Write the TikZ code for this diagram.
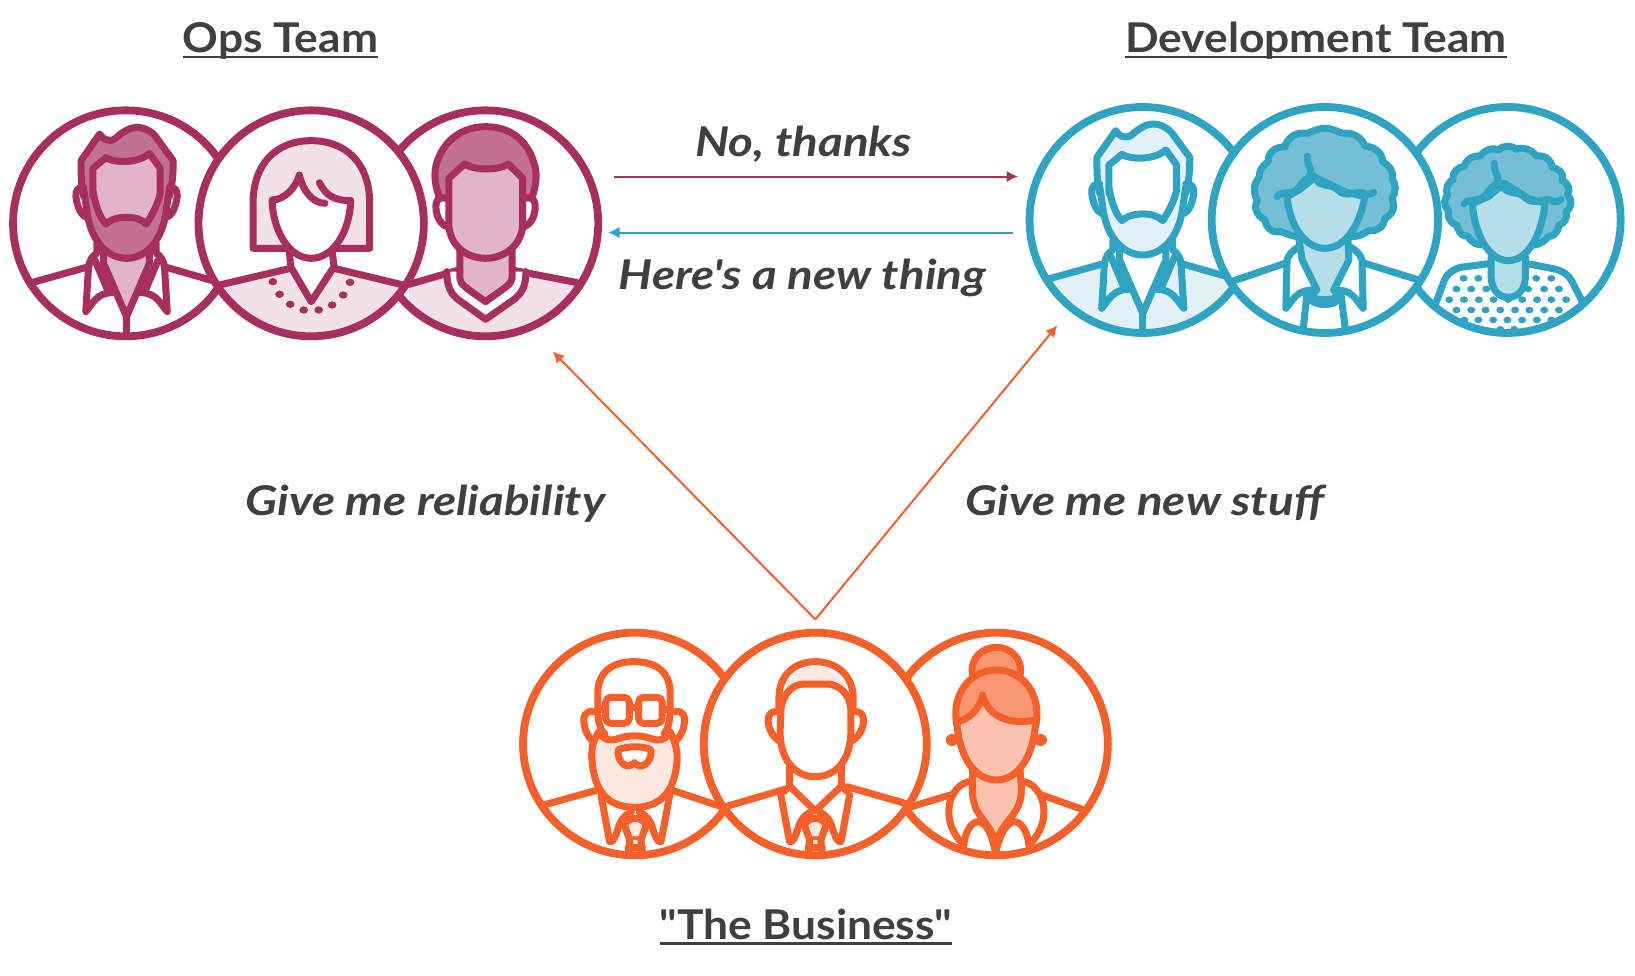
\documentclass[tikz,border=0pt]{standalone}
\usepackage{fontspec}
\newfontfamily\lbl{Lato}[FakeStretch=1.08]
\newfontfamily\lbli{Lato}[FakeStretch=1.16]
\usetikzlibrary{arrows.meta,calc}
\definecolor{txt}{HTML}{3F3F3F}
\definecolor{mar}{HTML}{A62F5E}\definecolor{marH}{HTML}{C2718F}\definecolor{marF}{HTML}{E2B5C6}\definecolor{marL}{HTML}{F3E1E8}
\definecolor{tea}{HTML}{2EA3C2}\definecolor{teaH}{HTML}{74BFD5}\definecolor{teaF}{HTML}{B5DEE8}\definecolor{teaL}{HTML}{E1F1F6}
\definecolor{ora}{HTML}{F45F2A}\definecolor{oraH}{HTML}{F79673}\definecolor{oraF}{HTML}{FBC2AF}\definecolor{oraL}{HTML}{FDE7E0}
\tikzset{
 ring/.style={draw=cM,line width=7.8pt},
 ln/.style={draw=cM,line width=7pt,line join=round,line cap=round},
 title/.style={font=\lbl\fontsize{41}{48}\selectfont\bfseries,text=txt,anchor=base,inner sep=0pt},
 says/.style={font=\lbli\fontsize{41}{48}\selectfont\bfseries\itshape,text=txt,anchor=base,inner sep=0pt},
 uline/.style={draw=txt,line width=2.2pt},
 arr/.style={line width=2pt,-{Latex[length=11.5pt,width=11.5pt]}},
}
% ears, given for the left side in a person's own coordinates
\newcommand{\earL}{\draw[ln] (222,382) .. controls (205,380) and (195,350) .. (192,320) .. controls (190,300) and (200,290) .. (212,292);}
\newcommand{\flapL}{%
 \draw[ln] (245,460) -- (245,490) .. controls (232,498) and (226,515) .. (224,530) -- (217,665) .. controls (235,640) and (245,608) .. (285,608);
 \draw[ln] (240,510) -- (272,600);}
% #1 hair #2 face #3 beard #4 neck #5 shirt
\newcommand{\bearded}[5]{%
 \fill[#5] (60,585) -- (225,530) -- (415,530) -- (580,585) -- (580,800) -- (60,800) -- cycle;
 \draw[ln] (80,578) -- (225,530); \draw[ln] (415,530) -- (555,578);
 \draw[ln] (320,680) -- (320,760);
 \draw[ln,fill=#4] (262,480) -- (262,520) -- (320,680) -- (378,520) -- (378,480);
 \flapL
 \begin{scope}[shift={(640,0)},xscale=-1]\flapL\end{scope}
 \draw[ln,fill=#1] (212,320) .. controls (206,290) and (205,270) .. (205,212) -- (252,132) .. controls (258,145) and (275,160) .. (292,145) .. controls (310,125) and (330,112) .. (345,112) .. controls (365,112) and (385,125) .. (395,142) -- (438,212) .. controls (438,270) and (434,290) .. (428,320);
 \earL
 \begin{scope}[shift={(640,0)},xscale=-1]\earL\end{scope}
 \draw[ln,fill=#3] (212,300) -- (222,380) .. controls (235,460) and (275,505) .. (320,505) .. controls (365,505) and (405,460) .. (418,380) -- (428,300);
 \fill[#2] (235,235) -- (268,200) .. controls (290,220) and (350,220) .. (375,190) -- (405,235) -- (405,310) .. controls (400,340) and (385,375) .. (370,402) .. controls (350,375) and (290,375) .. (268,402) .. controls (250,380) and (240,340) .. (235,300) -- cycle;
 \draw[ln] (235,320) -- (235,235) -- (268,203) .. controls (290,220) and (350,220) .. (378,190) -- (405,235) -- (405,310) .. controls (400,340) and (385,375) .. (370,402) .. controls (350,375) and (290,375) .. (268,402) .. controls (250,380) and (240,340) .. (235,300);
}
\newcommand{\tie}{%
 \draw[ln] (-87,555) -- (-65,695) .. controls (-58,700) and (-50,680) .. (-45,660) .. controls (-38,630) and (-28,615) .. (-10,606);
 \draw[ln] (87,555) -- (65,695) .. controls (58,700) and (50,680) .. (45,660) .. controls (38,630) and (28,615) .. (10,606);
 \draw[ln,fill=cA] (-14,690) -- (-28,645) .. controls (-15,618) and (15,618) .. (28,645) -- (14,690) -- cycle;
 \draw[ln,fill=cA] (-14,690) -- (-22,770) -- (22,770) -- (14,690);
 \draw[ln] (-18,712) -- (18,712);}
\newcommand{\afroface}{%
 \draw[ln] (-118,320) .. controls (-112,305) and (-95,312) .. (-78,305) .. controls (-60,298) and (-62,282) .. (-48,270) .. controls (-35,260) and (-28,250) .. (-37,230) .. controls (-42,215) and (-42,205) .. (-42,198);
 \draw[ln] (-28,255) .. controls (-20,275) and (-10,285) .. (15,288) .. controls (35,292) and (35,310) .. (55,312) .. controls (75,314) and (85,300) .. (105,312) .. controls (112,316) and (118,312) .. (125,307);}
\begin{document}
\begin{tikzpicture}[x=1pt,y=-1pt]
\useasboundingbox (0,0) rectangle (1635,975);
\fill[white] (0,0) rectangle (1635,975);

%% ---------- Ops team
\begin{scope}[shift={(0,90)},x=0.3954pt,y=-0.3333pt]
\colorlet{cM}{mar}\colorlet{cH}{marH}\colorlet{cF}{marF}\colorlet{cL}{marL}
\def\rx{285}\def\ry{339}
% left
\begin{scope}\clip (318,400) ellipse [x radius=\rx,y radius=\ry]; \bearded{cH}{cF}{cH}{cF}{white} \end{scope}
\draw[ring] (318,400) ellipse [x radius=\rx,y radius=\ry];
% right
\begin{scope}\clip (1228,400) ellipse [x radius=\rx,y radius=\ry];
 \fill[cL] (1035,583) -- (1160,540) -- (1295,540) -- (1460,583) -- (1460,800) -- (1035,800) -- cycle;
 \draw[ln] (1035,583) -- (1160,540); \draw[ln] (1295,540) -- (1460,578);
 \draw[ln,fill=white] (1130,545) .. controls (1130,590) and (1140,612) .. (1160,630) -- (1228,688) -- (1298,630) .. controls (1320,610) and (1330,590) .. (1330,545);
 \draw[ln,fill=cF] (1163,480) -- (1163,565) .. controls (1165,585) and (1175,590) .. (1228,635) .. controls (1280,590) and (1292,585) .. (1295,565) -- (1295,480);
 \draw[ln,fill=cH] (1112,325) .. controls (1098,280) and (1098,250) .. (1103,225) .. controls (1120,150) and (1170,110) .. (1228,110) .. controls (1290,110) and (1335,150) .. (1352,225) .. controls (1358,250) and (1358,280) .. (1345,325);
 \draw[ln] (1130,410) .. controls (1110,400) and (1100,370) .. (1103,340) .. controls (1105,325) and (1118,320) .. (1130,325);
 \draw[ln] (1326,410) .. controls (1346,400) and (1356,370) .. (1353,340) .. controls (1351,325) and (1338,320) .. (1326,325);
 \draw[ln,fill=cF] (1135,265) -- (1175,222) .. controls (1200,242) and (1260,242) .. (1285,222) -- (1322,265) -- (1322,400) .. controls (1322,460) and (1280,505) .. (1228,505) .. controls (1175,505) and (1135,460) .. (1135,400) -- cycle;
\end{scope}
\draw[ring] (1228,400) ellipse [x radius=\rx,y radius=\ry];
% middle
\fill[white] (787,400) ellipse [x radius=\rx,y radius=\ry];
\begin{scope}\clip (787,400) ellipse [x radius=\rx,y radius=\ry];
 \draw[ln,fill=cL] (640,475) -- (640,340) .. controls (640,220) and (700,152) .. (787,152) .. controls (875,152) and (935,220) .. (935,340) -- (935,475) -- cycle;
 \fill[cL] (555,585) -- (735,535) -- (787,635) -- (845,535) -- (1020,585) -- (1020,800) -- (555,800) -- cycle;
 \fill[white] (732,485) -- (735,530) -- (787,635) -- (845,530) -- (840,485) -- cycle;
 \draw[ln] (555,585) -- (735,535); \draw[ln] (845,535) -- (1020,585);
 \draw[ln] (732,485) -- (735,530) -- (787,635) -- (845,530) -- (840,485);
 \fill[white] (688,330) .. controls (720,330) and (750,290) .. (757,255) .. controls (765,300) and (790,335) .. (822,340) -- (887,332) .. controls (885,420) and (845,505) .. (787,505) .. controls (730,505) and (690,420) .. (688,330) -- cycle;
 \draw[ln] (887,332) .. controls (885,420) and (845,505) .. (787,505) .. controls (730,505) and (690,420) .. (688,330) .. controls (720,330) and (750,290) .. (757,255) .. controls (765,300) and (790,340) .. (822,340);
 \draw[ln] (808,278) .. controls (825,320) and (850,332) .. (887,332);
 \foreach \p in {(690,575),(707,613),(734,643),(768,660),(806,660),(840,645),(868,615),(885,577)}
  \fill[cM] \p ellipse [x radius=11,y radius=11];
\end{scope}
\draw[ring] (787,400) ellipse [x radius=\rx,y radius=\ry];
\end{scope}

%% ---------- Development team
\begin{scope}[shift={(1010,90)},x=0.3986pt,y=-0.3333pt]
\colorlet{cM}{tea}\colorlet{cH}{teaH}\colorlet{cF}{teaF}\colorlet{cL}{teaL}
\def\rx{284}\def\ry{339}
\begin{scope}\clip (333,390) ellipse [x radius=\rx,y radius=\ry];
 \begin{scope}[shift={(13,-10)}]\bearded{cL}{white}{cL}{white}{cL}\end{scope}
\end{scope}
\draw[ring] (333,390) ellipse [x radius=\rx,y radius=\ry];
% right
\begin{scope}\clip (1248,390) ellipse [x radius=\rx,y radius=\ry];
 \begin{scope}
  \clip (1065,800) -- (1070,640) -- (1090,570) .. controls (1100,545) and (1115,535) .. (1130,532) -- (1370,532) .. controls (1390,540) and (1400,555) .. (1408,570) -- (1440,640) -- (1440,800) -- cycle;
  \foreach \y/\l in {565/{1138,1175,1320,1358},597/{1120,1157,1195,1300,1340,1377},629/{1102,1139,1176,1213,1250,1285,1322,1358,1395},660/{1120,1157,1193,1230,1267,1303,1340,1377},690/{1140,1175,1212,1248,1285,1322,1358},718/{1230,1265,1157,1340}}
   \foreach \x in \l \fill[cM] (\x,\y) ellipse [x radius=10,y radius=10];
 \end{scope}
 \draw[ln] (1065,650) -- (1090,570) .. controls (1100,545) and (1115,538) .. (1130,532) -- (1208,520);
 \draw[ln] (1295,520) -- (1370,538) .. controls (1390,545) and (1400,555) .. (1408,570) -- (1438,640);
 \draw[ln,fill=cF] (1207,500) -- (1207,565) .. controls (1210,600) and (1225,622) .. (1250,622) .. controls (1275,622) and (1290,600) .. (1293,565) -- (1293,500);
 \draw[ln,fill=cH] (1180,465) .. controls (1160,460) and (1155,450) .. (1148,438) .. controls (1130,440) and (1125,420) .. (1120,405) .. controls (1098,395) and (1098,375) .. (1100,362) .. controls (1085,345) and (1090,325) .. (1098,315) .. controls (1090,295) and (1100,275) .. (1112,268) .. controls (1108,245) and (1125,232) .. (1140,228) .. controls (1145,205) and (1165,195) .. (1180,198) .. controls (1190,178) and (1215,172) .. (1225,180) .. controls (1235,165) and (1260,165) .. (1270,178) .. controls (1285,170) and (1310,178) .. (1320,198) .. controls (1345,195) and (1358,210) .. (1360,232) .. controls (1375,235) and (1392,250) .. (1385,270) .. controls (1400,280) and (1408,298) .. (1398,315) .. controls (1410,325) and (1412,350) .. (1395,365) .. controls (1400,385) and (1390,400) .. (1378,405) .. controls (1375,425) and (1365,440) .. (1350,440) .. controls (1345,450) and (1330,462) .. (1318,465) -- cycle;
 \draw[ln,fill=cF] (1160,340) .. controls (1165,430) and (1200,512) .. (1250,512) .. controls (1300,512) and (1335,430) .. (1342,340) -- (1300,325) -- (1240,280) -- (1200,320) -- cycle;
 \begin{scope}[shift={(1257,22)}]\afroface\end{scope}
\end{scope}
\draw[ring] (1248,390) ellipse [x radius=\rx,y radius=\ry];
% middle
\fill[white] (790,390) ellipse [x radius=\rx,y radius=\ry];
\begin{scope}\clip (790,390) ellipse [x radius=\rx,y radius=\ry];
 \draw[ln] (555,575) -- (695,518); \draw[ln] (885,518) -- (1025,570);
 \draw[ln,fill=cF] (725,450) -- (733,510) -- (770,600) -- (750,620) .. controls (775,632) and (805,632) .. (825,620) -- (812,600) -- (850,510) -- (848,450);
 \draw[ln] (725,470) .. controls (710,480) and (698,495) .. (695,510) -- (692,655) .. controls (710,630) and (720,598) .. (762,600);
 \draw[ln] (853,470) .. controls (868,480) and (880,495) .. (883,510) -- (886,655) .. controls (868,630) and (858,598) .. (816,600);
 \draw[ln] (748,625) .. controls (770,650) and (810,650) .. (828,625);
 \draw[ln] (745,610) -- (735,725); \draw[ln] (830,610) -- (842,725);
 \draw[ln,fill=cH] (720,440) .. controls (700,435) and (690,430) .. (680,425) .. controls (655,430) and (640,410) .. (640,390) .. controls (615,375) and (612,350) .. (620,330) .. controls (608,305) and (612,280) .. (625,262) .. controls (625,240) and (635,225) .. (648,215) .. controls (645,190) and (665,170) .. (690,170) .. controls (695,145) and (715,125) .. (745,130) .. controls (760,125) and (770,115) .. (790,115) .. controls (810,115) and (820,125) .. (835,130) .. controls (860,125) and (885,145) .. (890,168) .. controls (915,170) and (935,190) .. (935,215) .. controls (950,225) and (965,245) .. (958,265) .. controls (970,285) and (968,310) .. (958,325) .. controls (968,350) and (960,375) .. (940,385) .. controls (940,410) and (920,425) .. (900,422) .. controls (885,435) and (870,440) .. (858,440) -- cycle;
 \draw[ln,fill=cF] (695,320) .. controls (700,395) and (735,475) .. (790,475) .. controls (845,475) and (880,395) .. (890,320) -- (840,305) -- (765,262) -- (725,300) -- cycle;
 \begin{scope}[shift={(788,0)}]\afroface\end{scope}
\end{scope}
\draw[ring] (790,390) ellipse [x radius=\rx,y radius=\ry];
\end{scope}

%% ---------- The business
\begin{scope}[shift={(510,610)},x=0.3954pt,y=-0.3333pt]
\colorlet{cM}{ora}\colorlet{cH}{oraH}\colorlet{cF}{oraF}\colorlet{cA}{oraL}
\def\rx{282}\def\ry{334}
\begin{scope}\clip (315,402) ellipse [x radius=\rx,y radius=\ry];
 \draw[ln] (85,585) -- (222,540); \draw[ln] (408,540) -- (535,590);
 \begin{scope}[shift={(317,0)}]\tie\end{scope}
 \draw[ln,fill=cA] (225,365) .. controls (205,400) and (205,430) .. (208,460) .. controls (215,540) and (245,592) .. (315,592) .. controls (385,592) and (415,540) .. (422,460) .. controls (425,430) and (420,400) .. (405,365) .. controls (395,390) and (375,395) .. (355,385) .. controls (330,375) and (300,375) .. (275,385) .. controls (255,395) and (235,390) .. (225,365) -- cycle;
 \draw[ln,fill=white] (275,418) .. controls (300,408) and (335,408) .. (355,418) .. controls (362,440) and (345,470) .. (328,468) .. controls (322,468) and (318,460) .. (315,458) .. controls (312,460) and (306,468) .. (300,468) .. controls (285,470) and (268,440) .. (275,418) -- cycle;
 \draw[ln] (222,298) -- (222,250) .. controls (222,185) and (260,155) .. (313,155) .. controls (370,155) and (405,185) .. (405,250) -- (405,298);
 \draw[ln] (222,300) .. controls (222,330) and (226,355) .. (240,372);
 \draw[ln] (405,300) .. controls (405,330) and (400,355) .. (390,372);
 \draw[ln] (212,305) .. controls (190,300) and (183,320) .. (188,345) .. controls (190,365) and (198,380) .. (208,392);
 \draw[ln] (418,305) .. controls (438,300) and (445,320) .. (440,345) .. controls (438,365) and (430,380) .. (420,392);
 \draw[ln,rounded corners=5pt] (242,262) rectangle (302,340);
 \draw[ln,rounded corners=5pt] (325,262) rectangle (385,340);
 \draw[ln] (302,292) -- (325,292); \draw[ln] (222,298) -- (242,298); \draw[ln] (385,298) -- (405,298);
\end{scope}
\draw[ring] (315,402) ellipse [x radius=\rx,y radius=\ry];
% right
\begin{scope}\clip (1230,402) ellipse [x radius=\rx,y radius=\ry];
 \draw[ln] (1015,590) -- (1122,552); \draw[ln] (1338,552) -- (1452,600);
 \draw[ln,fill=cF] (1170,480) .. controls (1170,530) and (1165,560) .. (1180,600) .. controls (1200,640) and (1222,660) .. (1228,705) .. controls (1235,660) and (1260,640) .. (1280,600) .. controls (1300,560) and (1292,530) .. (1290,480);
 \draw[ln] (1160,515) .. controls (1125,525) and (1108,570) .. (1110,610) .. controls (1110,650) and (1130,685) .. (1148,705) .. controls (1150,670) and (1165,635) .. (1185,635) .. controls (1210,640) and (1222,690) .. (1228,730);
 \draw[ln] (1300,515) .. controls (1335,525) and (1352,570) .. (1350,610) .. controls (1350,650) and (1330,685) .. (1312,705) .. controls (1310,670) and (1295,635) .. (1275,635) .. controls (1250,640) and (1235,690) .. (1228,730);
 \draw[ln,fill=cH] (1170,195) .. controls (1162,145) and (1195,112) .. (1230,112) .. controls (1265,112) and (1298,145) .. (1290,195) -- cycle;
 \fill[cM] (1118,390) ellipse [x radius=16,y radius=18];
 \fill[cM] (1342,390) ellipse [x radius=16,y radius=18];
 \draw[ln,fill=cH] (1130,345) .. controls (1115,250) and (1165,180) .. (1230,180) .. controls (1295,180) and (1345,250) .. (1330,345) -- cycle;
 \draw[ln,fill=cF] (1130,335) .. controls (1160,330) and (1190,295) .. (1195,255) .. controls (1210,325) and (1270,345) .. (1330,330) .. controls (1325,440) and (1285,510) .. (1230,510) .. controls (1175,510) and (1135,440) .. (1130,335) -- cycle;
\end{scope}
\draw[ring] (1230,402) ellipse [x radius=\rx,y radius=\ry];
% middle
\fill[white] (772,402) ellipse [x radius=\rx,y radius=\ry];
\begin{scope}\clip (772,402) ellipse [x radius=\rx,y radius=\ry];
 \draw[ln] (545,590) -- (695,538); \draw[ln] (852,530) -- (1005,582);
 \draw[ln] (707,465) -- (707,528) -- (772,603) -- (838,528) -- (838,465);
 \draw[ln] (707,528) -- (692,545); \draw[ln] (838,528) -- (853,545);
 \begin{scope}[shift={(772,0)}]\tie\end{scope}
 \draw[ln] (680,300) -- (680,265) .. controls (680,195) and (720,155) .. (772,155) .. controls (825,155) and (868,195) .. (868,265) -- (868,300);
 \fill[cA] (696,240) .. controls (710,195) and (740,170) .. (772,170) .. controls (805,170) and (835,195) .. (852,240) .. controls (835,225) and (820,220) .. (805,220) -- (740,220) .. controls (725,220) and (710,225) .. (696,240) -- cycle;
 \draw[ln] (685,300) .. controls (690,250) and (715,222) .. (745,222) -- (800,222) .. controls (830,222) and (860,250) .. (862,300) -- (862,370) .. controls (860,450) and (825,500) .. (772,500) .. controls (720,500) and (685,450) .. (683,370) -- cycle;
 \draw[ln] (672,305) .. controls (652,305) and (650,330) .. (655,350) .. controls (660,370) and (670,385) .. (680,392);
 \draw[ln] (875,305) .. controls (895,305) and (897,330) .. (892,350) .. controls (887,370) and (877,385) .. (865,392);
\end{scope}
\draw[ring] (772,402) ellipse [x radius=\rx,y radius=\ry];
\end{scope}

%% ---------- connectors
\coordinate (opsOut) at (614,176.5); \coordinate (devIn) at (1018,176.5);
\coordinate (devOut) at (1012.5,232.5); \coordinate (opsIn) at (608,232.5);
\coordinate (busTop) at (815.4,619.4); \coordinate (opsAsk) at (552.6,351.4); \coordinate (devAsk) at (1057.3,325.3);
\draw[arr,color=mar] (opsOut) -- (devIn);
\draw[arr,color=tea] (devOut) -- (opsIn);
\draw[arr,color=ora] (busTop) -- (opsAsk);
\draw[arr,color=ora] (busTop) -- (devAsk);

%% ---------- text
\node[title] (opsT) at (280.5,52.5) {Ops Team};
\node[title] (devT) at (1316,52.5) {Development Team};
\node[title] (busT) at (806,939) {"The Business"};
\draw[uline] ($(opsT.base west)+(0,4.5)$) -- ($(opsT.base east)+(0,4.5)$);
\draw[uline] ($(devT.base west)+(0,4.5)$) -- ($(devT.base east)+(0,4.5)$);
\draw[uline] ($(busT.base west)+(0,4.5)$) -- ($(busT.base east)+(0,4.5)$);
\node[says] (noT) at (803.5,156) {No, thanks};
\node[says] (newT) at (802.5,289) {Here's a new thing};
\node[says] (relT) at (425.5,515) {Give me reliability};
\node[says] (stuffT) at (1145,515) {Give me new stuff};
\end{tikzpicture}
\end{document}
